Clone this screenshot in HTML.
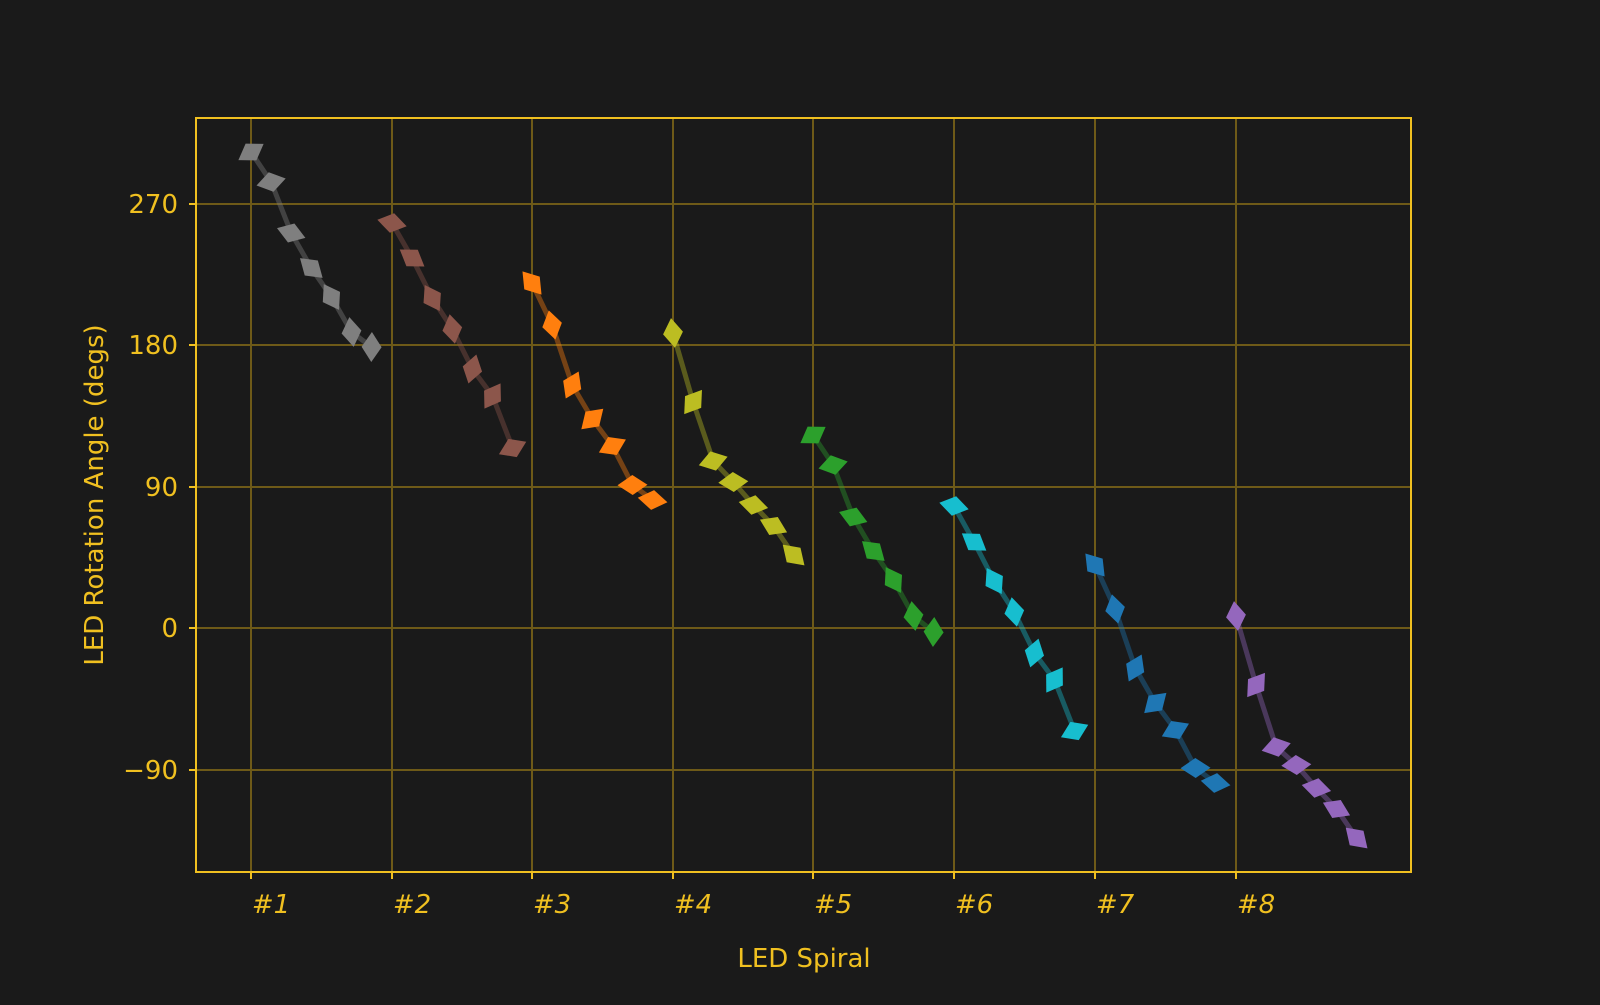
<!DOCTYPE html>
<html><head><meta charset="utf-8"><style>
html,body{margin:0;padding:0;background:#1a1a1a;}
svg text{font-family:"DejaVu Sans","Liberation Sans",sans-serif;fill:#f0c020;}
</style></head><body>
<svg id="s" width="1600" height="1000" xmlns="http://www.w3.org/2000/svg">
<rect width="1600" height="1000" fill="#1a1a1a"/>
<g id="grid" stroke="#6e5a18" stroke-width="2"></g>
<g id="data"></g>
<rect x="196" y="118" width="1215" height="754" fill="none" stroke="#f0c020" stroke-width="2"/>
<g id="ticks"></g>
<text x="804" y="967" font-size="26" text-anchor="middle">LED Spiral</text>
<text transform="translate(103,495) rotate(-90)" font-size="26" text-anchor="middle">LED Rotation Angle (degs)</text>
</svg>
<script>
var NS="http://www.w3.org/2000/svg";
function el(p,t,a,txt){var e=document.createElementNS(NS,t);for(var k in a)e.setAttribute(k,a[k]);if(txt!=null)e.textContent=txt;p.appendChild(e);return e;}
var g=document.getElementById('grid'),tk=document.getElementById('ticks'),d=document.getElementById('data');
var xs=[251,392,532,673,813,954,1095,1236];
var yt=[[270,204],[180,345],[90,487],[0,628],[-90,770]];
xs.forEach(function(x,i){el(g,'line',{x1:x,y1:119,x2:x,y2:871});
el(tk,'line',{x1:x,y1:872,x2:x,y2:879,stroke:'#f0c020','stroke-width':2});
el(tk,'text',{x:x+20,y:913,'font-size':26,'font-style':'italic','text-anchor':'middle'},'#'+(i+1));});
yt.forEach(function(t){el(g,'line',{x1:197,y1:t[1],x2:1410,y2:t[1]});
el(tk,'line',{x1:189,y1:t[1],x2:196,y2:t[1],stroke:'#f0c020','stroke-width':2});
el(tk,'text',{x:178,y:t[1]+9,'font-size':26,'text-anchor':'end'},t[0]<0?'\u221290':t[0]);});
var ser=[
['#7f7f7f',[152,182,233,268,297,332,347]],
['#8c564b',[223,258,298,329,369,396,448]],
['#ff7f0e',[283,325,385,419,446,485,500]],
['#bcbd22',[333,402,461,482,505,526,555]],
['#2ca02c',[435,465,517,551,580,616,632]],
['#17becf',[506,542,581,612,653,680,731]],
['#1f77b4',[565,609,668,703,730,768,783]],
['#9467bd',[616,685,747,765,788,809,838]]];
ser.forEach(function(s,i){var pts=s[1].map(function(y,j){return [xs[i]+j*20.1,y];});
el(d,'polyline',{points:pts.map(function(p){return p.join(',')}).join(' '),fill:'none',stroke:s[0],'stroke-opacity':0.4,'stroke-width':5});
pts.forEach(function(p){var v=(628-p[1])/1.5722;
el(d,'polygon',{points:'0,-15 10,0 0,15 -10,0',fill:s[0],transform:'translate('+p[0]+','+p[1]+') rotate('+(-v)+')'});});});
</script>
</body></html>
